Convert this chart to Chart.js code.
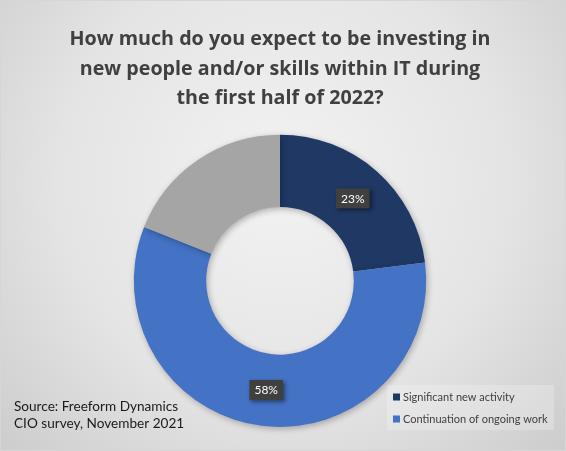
<!DOCTYPE html>
<html>
<head>
<meta charset="utf-8">
<script src="https://cdn.jsdelivr.net/npm/chart.js@4"></script>
<style>
html,body{margin:0;padding:0;background:#e0e0e0;}
#wrap{width:566px;height:451px;position:relative;}
canvas{display:block;}
</style>
</head>
<body>
<div id="wrap"><canvas id="c" width="566" height="451"></canvas></div>
<script>
const categories = ["Significant new activity", "Continuation of ongoing work", "Other"];
const values = [23, 58, 19];
const dataLabels = ["23%", "58%", null];
const legendCategories = ["Significant new activity", "Continuation of ongoing work"];
const colors = ["#1f3864", "#4472c4", "#a5a5a5"];
const titleLines = ["How much do you expect to be investing in", "new people and/or skills within IT during", "the first half of 2022?"];
const sourceLines = ["Source: Freeform Dynamics", "CIO survey, November 2021"];

const bgPlugin = {
  id: 'bg',
  beforeDraw(chart) {
    const ctx = chart.ctx, w = chart.width, h = chart.height;
    ctx.save();
    const g = ctx.createRadialGradient(w * 0.5, h * 0.4, 10, w * 0.5, h * 0.4, 400);
    g.addColorStop(0, '#f2f2f2');
    g.addColorStop(0.55, '#e4e4e4');
    g.addColorStop(1, '#cbcbcb');
    ctx.fillStyle = g;
    ctx.fillRect(0, 0, w, h);
    ctx.strokeStyle = '#d6d6d6';
    ctx.lineWidth = 1;
    ctx.strokeRect(0.5, 0.5, w - 1, h - 1);
    ctx.restore();
  }
};

const shadowPlugin = {
  id: 'shadow',
  beforeDatasetDraw(chart) {
    const ctx = chart.ctx;
    ctx.save();
    ctx.shadowColor = 'rgba(0,0,0,0.28)';
    ctx.shadowBlur = 6;
    ctx.shadowOffsetX = 1.5;
    ctx.shadowOffsetY = 2;
  },
  afterDatasetDraw(chart) {
    chart.ctx.restore();
  }
};

const labelPlugin = {
  id: 'labels',
  afterDatasetsDraw(chart) {
    const ctx = chart.ctx;
    const meta = chart.getDatasetMeta(0);
    meta.data.forEach((arc, i) => {
      const txt = dataLabels[i];
      if (!txt) return;
      const p = arc.tooltipPosition();
      ctx.save();
      ctx.font = '12px Lato, "Open Sans", sans-serif';
      const tw = ctx.measureText(txt).width;
      const bw = tw + 10, bh = 20;
      ctx.shadowColor = 'rgba(0,0,0,0.45)';
      ctx.shadowBlur = 4;
      ctx.shadowOffsetX = 2;
      ctx.shadowOffsetY = 2;
      ctx.fillStyle = '#404040';
      ctx.fillRect(p.x - bw / 2, p.y - bh / 2, bw, bh);
      ctx.shadowColor = 'transparent';
      ctx.fillStyle = '#ffffff';
      ctx.textAlign = 'center';
      ctx.textBaseline = 'middle';
      ctx.fillText(txt, p.x, p.y + 0.5);
      ctx.restore();
    });
  }
};

const legendPlugin = {
  id: 'customLegend',
  afterDraw(chart) {
    const ctx = chart.ctx;
    ctx.save();
    ctx.fillStyle = 'rgba(255,255,255,0.22)';
    ctx.fillRect(387, 385, 167, 45);
    ctx.font = '11px Lato, "Open Sans", sans-serif';
    ctx.textBaseline = 'middle';
    ctx.textAlign = 'left';
    const rows = [397, 419];
    legendCategories.forEach((lab, i) => {
      const idx = categories.indexOf(lab);
      ctx.fillStyle = colors[idx];
      ctx.fillRect(393, rows[i] - 3.5, 7, 7);
      ctx.fillStyle = '#404040';
      ctx.fillText(lab, 403, rows[i]);
    });
    ctx.font = '13.6px Lato, "Open Sans", sans-serif';
    ctx.fillStyle = '#1a1a1a';
    ctx.fillText(sourceLines[0], 14, 407);
    ctx.fillText(sourceLines[1], 14, 424);
    ctx.restore();
  }
};

new Chart(document.getElementById('c'), {
  type: 'doughnut',
  data: {
    labels: categories,
    datasets: [{
      data: values,
      backgroundColor: colors,
      borderWidth: 0,
      hoverOffset: 0
    }]
  },
  options: {
    responsive: false,
    animation: false,
    cutout: '50.5%',
    layout: { padding: { top: 0, bottom: 24, left: 0, right: 6 } },
    plugins: {
      legend: { display: false },
      tooltip: { enabled: false },
      title: {
        display: true,
        text: titleLines,
        color: '#404040',
        font: { family: '"Open Sans", Lato, sans-serif', size: 19.7, weight: 'bold', lineHeight: 1.5 },
        padding: { top: 25, bottom: 21 }
      }
    }
  },
  plugins: [bgPlugin, shadowPlugin, labelPlugin, legendPlugin]
});
</script>
</body>
</html>
